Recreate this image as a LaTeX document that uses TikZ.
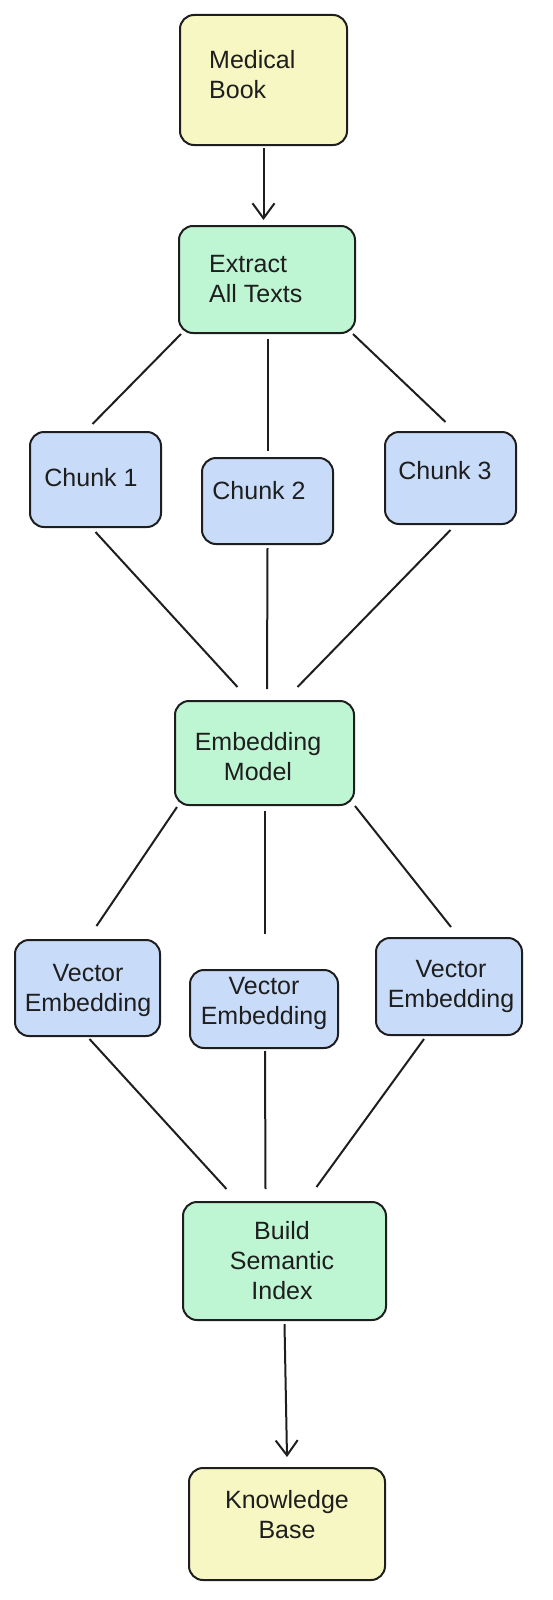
\documentclass[tikz,border=0pt]{standalone}
\usepackage{fontspec}
\setmainfont{Liberation Sans}
\usetikzlibrary{arrows.meta,calc}
\definecolor{ybox}{RGB}{247,247,196}
\definecolor{gbox}{RGB}{190,245,210}
\definecolor{bbox}{RGB}{200,220,250}
\definecolor{ink}{RGB}{30,30,30}
\begin{document}
\begin{tikzpicture}[x=1pt,y=-1pt,
  box/.style={draw=ink,line width=2pt,rounded corners=14pt,inner sep=0pt},
  yel/.style={box,fill=ybox},
  grn/.style={box,fill=gbox},
  blu/.style={box,fill=bbox},
  txt/.style={inner sep=0pt,font=\fontsize{25}{30}\selectfont,text=ink,align=center},
  ln/.style={draw=ink,line width=2pt},
  arr/.style={ln,-{Straight Barb[length=15pt,width=22pt,line width=2pt]}}]
\useasboundingbox (0,0) rectangle (553,1600);
% boxes
\node[yel,minimum width=167pt,minimum height=130pt] (mb) at (263.5,80) {};
\node[grn,minimum width=176pt,minimum height=107pt] (ext) at (267,279.5) {};
\node[blu,minimum width=131pt,minimum height=95pt] (c1) at (95.5,479.5) {};
\node[blu,minimum width=131pt,minimum height=86pt] (c2) at (267.5,501) {};
\node[blu,minimum width=131pt,minimum height=92pt] (c3) at (450.5,478) {};
\node[grn,minimum width=179pt,minimum height=104pt] (emb) at (264.5,753) {};
\node[blu,minimum width=145pt,minimum height=96pt] (v1) at (87.5,988) {};
\node[blu,minimum width=148pt,minimum height=78pt] (v2) at (264,1009) {};
\node[blu,minimum width=146pt,minimum height=97pt] (v3) at (449,986.5) {};
\node[grn,minimum width=203pt,minimum height=118pt] (bsi) at (284.5,1261) {};
\node[yel,minimum width=196pt,minimum height=112pt] (kb) at (287,1524) {};
% texts
\node[txt,anchor=west,align=left] (mbt) at (209,75) {Medical\\Book};
\node[txt,anchor=west,align=left] (extt) at (209,279) {Extract\\All Texts};
\node[txt] (c1t) at (91,478) {Chunk 1};
\node[txt] (c2t) at (259,491) {Chunk 2};
\node[txt] (c3t) at (445,471) {Chunk 3};
\node[txt] (embt) at (258,757) {Embedding\\Model};
\node[txt] (v1t) at (88,990) {Vector\\Embedding};
\node[txt] (v2t) at (264,1003) {Vector\\Embedding};
\node[txt] (v3t) at (451,986) {Vector\\Embedding};
\node[txt] (bsit) at (282,1261) {Build\\Semantic\\Index};
\node[txt] (kbt) at (287,1515) {Knowledge\\Base};
% connectors
\draw[arr] ($(mb.south)+(0,2)$) -- ($(mb.south |- ext.north)+(0,-5)$);
\draw[ln] ($(ext.south west)+(3,0)$) -- ($(c1.north)+(-3,-7)$);
\draw[ln] ($(ext.south)+(1,5)$) -- ($(c2.north)+(0.5,-6)$);
\draw[ln] ($(ext.south east)+(-3,0)$) -- ($(c3.north)+(-5,-9)$);
\draw[ln] ($(c1.south)+(0,4)$) -- ($(emb.north)+(-27,-13)$);
\draw[ln] ($(c2.south)+(0,3)$) -- ($(emb.north)+(2.5,-11)$);
\draw[ln] ($(c3.south)+(0,5)$) -- ($(emb.north)+(33,-13)$);
\draw[ln] ($(emb.south west)+(3,1)$) -- ($(v1.north)+(9,-13)$);
\draw[ln] ($(emb.south)+(0,5)$) -- ($(v2.north)+(0.5,-35)$);
\draw[ln] ($(emb.south east)+(0,0)$) -- ($(v3.north)+(2,-10)$);
\draw[ln] ($(v1.south)+(2,2)$) -- ($(bsi.north)+(-58,-12)$);
\draw[ln] ($(v2.south)+(1,2)$) -- ($(bsi.north)+(-19,-12)$);
\draw[ln] ($(v3.south)+(-25,3)$) -- ($(bsi.north)+(32,-14)$);
\draw[arr] ($(bsi.south)+(0,3)$) -- ($(kb.north)+(0,-10)$);
\end{tikzpicture}
\end{document}
